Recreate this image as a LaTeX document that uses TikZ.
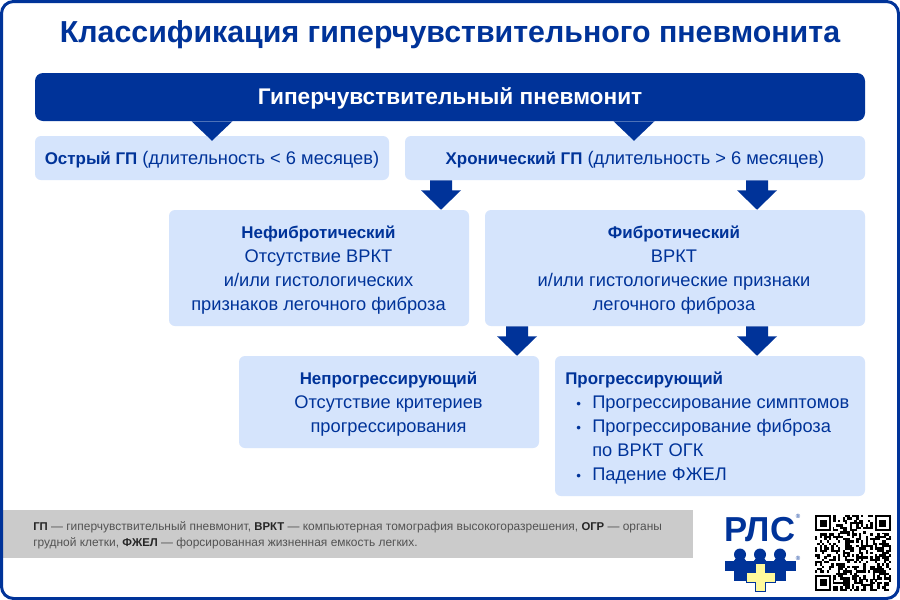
\documentclass[tikz,border=0pt]{standalone}
\usepackage{fontspec}
\setmainfont{Liberation Sans}
\usetikzlibrary{calc}
\definecolor{rlsblue}{HTML}{003399}
\definecolor{boxblue}{HTML}{D5E4FC}
\definecolor{footgray}{HTML}{CBCBCB}
\definecolor{crossyellow}{HTML}{FFF99B}
\newdimen\px \px=.75pt
\newcommand\bb[1]{{\fontsize{12.7}{18}\selectfont\bfseries #1}}
\newcommand\fb[1]{\textcolor{black!85}{{\fontsize{8.5}{12}\selectfont\bfseries #1}}}
\newcommand\bul{\makebox[27\px][l]{\hspace*{11\px}{\fontsize{10}{18}\selectfont •}}}
\tikzset{
  x=.75pt,y=-.75pt,
  boxnode/.style={fill=boxblue,rounded corners=6\px,inner sep=0pt},
  boxtext/.style={inner sep=0pt,text=rlsblue,align=center,font=\fontsize{13.7}{18}\selectfont},
}
% #1 source node, #2 target node, #3 coordinate giving x
\newcommand\blockarrow[3]{%
  \fill[rlsblue] ($(#1.south -| #3)+(-11,0)$) -- ($(#1.south -| #3)+(11,0)$)
    -- ($(#1.south -| #3)+(11,10)$) -- ($(#1.south -| #3)+(20,10)$)
    -- (#2.north -| #3) -- ($(#1.south -| #3)+(-20,10)$) -- ($(#1.south -| #3)+(-11,10)$) -- cycle;}
\newcommand\wedgearrow[3]{%
  \fill[rlsblue] ($(#1.south -| #3)+(-20.5,0)$) -- ($(#1.south -| #3)+(20.5,0)$)
    -- ($(#1.south -| #3)+(0,19.5)$) -- cycle;}
\begin{document}
\begin{tikzpicture}
\useasboundingbox (0,0) rectangle (900,600);
\fill[white] (0,0) rectangle (900,600);
\node[text=rlsblue,font=\fontsize{22.75}{28}\selectfont\bfseries,inner sep=0pt] (title) at (450,34.5) {Классификация гиперчувствительного пневмонита};
\node[fill=rlsblue,rounded corners=8\px,minimum width=830\px,minimum height=48\px,inner sep=0pt] (main) at (450,97) {};
\node[inner sep=0pt,text=white,font=\fontsize{17}{20}\selectfont\bfseries] (maintext) at (450,98.5) {Гиперчувствительный пневмонит};
\node[boxnode,minimum width=354\px,minimum height=44\px] (acute) at (212,158) {};
\node[boxtext] (acutetext) at (212,160) {\bb{Острый ГП} (длительность < 6 месяцев)};
\node[boxnode,minimum width=460\px,minimum height=44\px] (chronic) at (635,158) {};
\node[boxtext] (chronictext) at (635,160) {\bb{Хронический ГП} (длительность > 6 месяцев)};
\node[boxnode,minimum width=300\px,minimum height=116\px] (nonfib) at (319,268) {};
\node[boxtext] (nonfibtext) at (318.5,270) {\bb{Нефибротический}\\Отсутствие ВРКТ\\и/или гистологических\\признаков легочного фиброза};
\node[boxnode,minimum width=380\px,minimum height=116\px] (fib) at (675,268) {};
\node[boxtext] (fibtext) at (674,270) {\bb{Фибротический}\\ВРКТ\\и/или гистологические признаки\\легочного фиброза};
\node[boxnode,minimum width=300\px,minimum height=92\px] (nonprog) at (389,402) {};
\node[boxtext] (nonprogtext) at (388.5,404) {\bb{Непрогрессирующий}\\Отсутствие критериев\\прогрессирования};
\node[boxnode,minimum width=310\px,minimum height=140\px] (prog) at (710,426) {};
\node[boxtext,align=left,anchor=west] (progtext) at (565,428) {\bb{Прогрессирующий}\\
\bul Прогрессирование симптомов\\
\bul Прогрессирование фиброза\\
\hspace*{27\px}по ВРКТ ОГК\\
\bul Падение ФЖЕЛ};
\coordinate (xa) at (212,0);
\coordinate (xb) at (634,0);
\coordinate (xc) at (441,0);
\coordinate (xd) at (757,0);
\coordinate (xe) at (517,0);
\wedgearrow{main}{acute}{xa}
\wedgearrow{main}{chronic}{xb}
\blockarrow{chronic}{nonfib}{xc}
\blockarrow{chronic}{fib}{xd}
\blockarrow{fib}{nonprog}{xe}
\blockarrow{fib}{prog}{xd}
\fill[footgray] (3,510) rectangle (693,558);
\node[inner sep=0pt,anchor=west,align=left,text=black!68,font=\fontsize{8.95}{12}\selectfont] (foot) at (33,535) {\fb{ГП} — гиперчувствительный пневмонит, \fb{ВРКТ} — компьютерная томография высокогоразрешения, \fb{ОГР} — органы\\грудной клетки, \fb{ФЖЕЛ} — форсированная жизненная емкость легких.};
% logo
\node[inner sep=0pt,text=rlsblue,font=\fontsize{26}{30}\selectfont\bfseries,anchor=center] (rls) at (760,530) {РЛС};
\node[inner sep=0pt,text=rlsblue,font=\fontsize{4.5}{5}\selectfont] (regA) at (798,516) {®};
\node[inner sep=0pt,text=rlsblue,font=\fontsize{4.5}{5}\selectfont] (regB) at (798,558) {®};
\foreach \cx in {740,760,780}{
  \fill[rlsblue] (\cx,554.5) circle[radius=6];
  \fill[rlsblue] (\cx-7,562) -- (\cx-3,557) -- (\cx+3,557) -- (\cx+7,562) -- cycle;
}
\fill[rlsblue] (725,561) rectangle (796,571);
\fill[rlsblue] (734,571) rectangle (786,581);
\draw[rlsblue,fill=crossyellow,line width=.5pt] (755,563) -- (765,563) -- (765,572) -- (775,572) -- (775,582) -- (765,582) -- (765,591) -- (755,591) -- (755,582) -- (746,582) -- (746,572) -- (755,572) -- cycle;
% QR
\begin{scope}[shift={(815,515)}]
\pgfmathsetseed{4711}
\def\m{2.3}
\foreach \r in {0,...,32}{\foreach \c in {0,...,32}{
  \pgfmathsetmacro\v{rnd}
  \ifdim\v pt<.5pt
    \fill[black] (\c*\m,\r*\m) rectangle ({(\c+1)*\m+.1},{(\r+1)*\m+.1});
  \fi
}}
\foreach \ox/\oy in {0/0,26/0,0/26}{
  \fill[black] (\ox*\m,\oy*\m) rectangle ({(\ox+7)*\m},{(\oy+7)*\m});
  \fill[white] ({(\ox+1)*\m},{(\oy+1)*\m}) rectangle ({(\ox+6)*\m},{(\oy+6)*\m});
  \fill[black] ({(\ox+2)*\m},{(\oy+2)*\m}) rectangle ({(\ox+5)*\m},{(\oy+5)*\m});
}
\fill[white] (7*\m,0) rectangle (8*\m,8*\m);
\fill[white] (0,7*\m) rectangle (8*\m,8*\m);
\fill[white] (25*\m,0) rectangle (26*\m,8*\m);
\fill[white] (25*\m,7*\m) rectangle (33*\m,8*\m);
\fill[white] (0,25*\m) rectangle (8*\m,26*\m);
\fill[white] (7*\m,25*\m) rectangle (8*\m,33*\m);
\end{scope}
% frame
\draw[rlsblue,line width=3\px,rounded corners=12\px] (1.5,1.5) rectangle (898.5,598.5);
\end{tikzpicture}
\end{document}
